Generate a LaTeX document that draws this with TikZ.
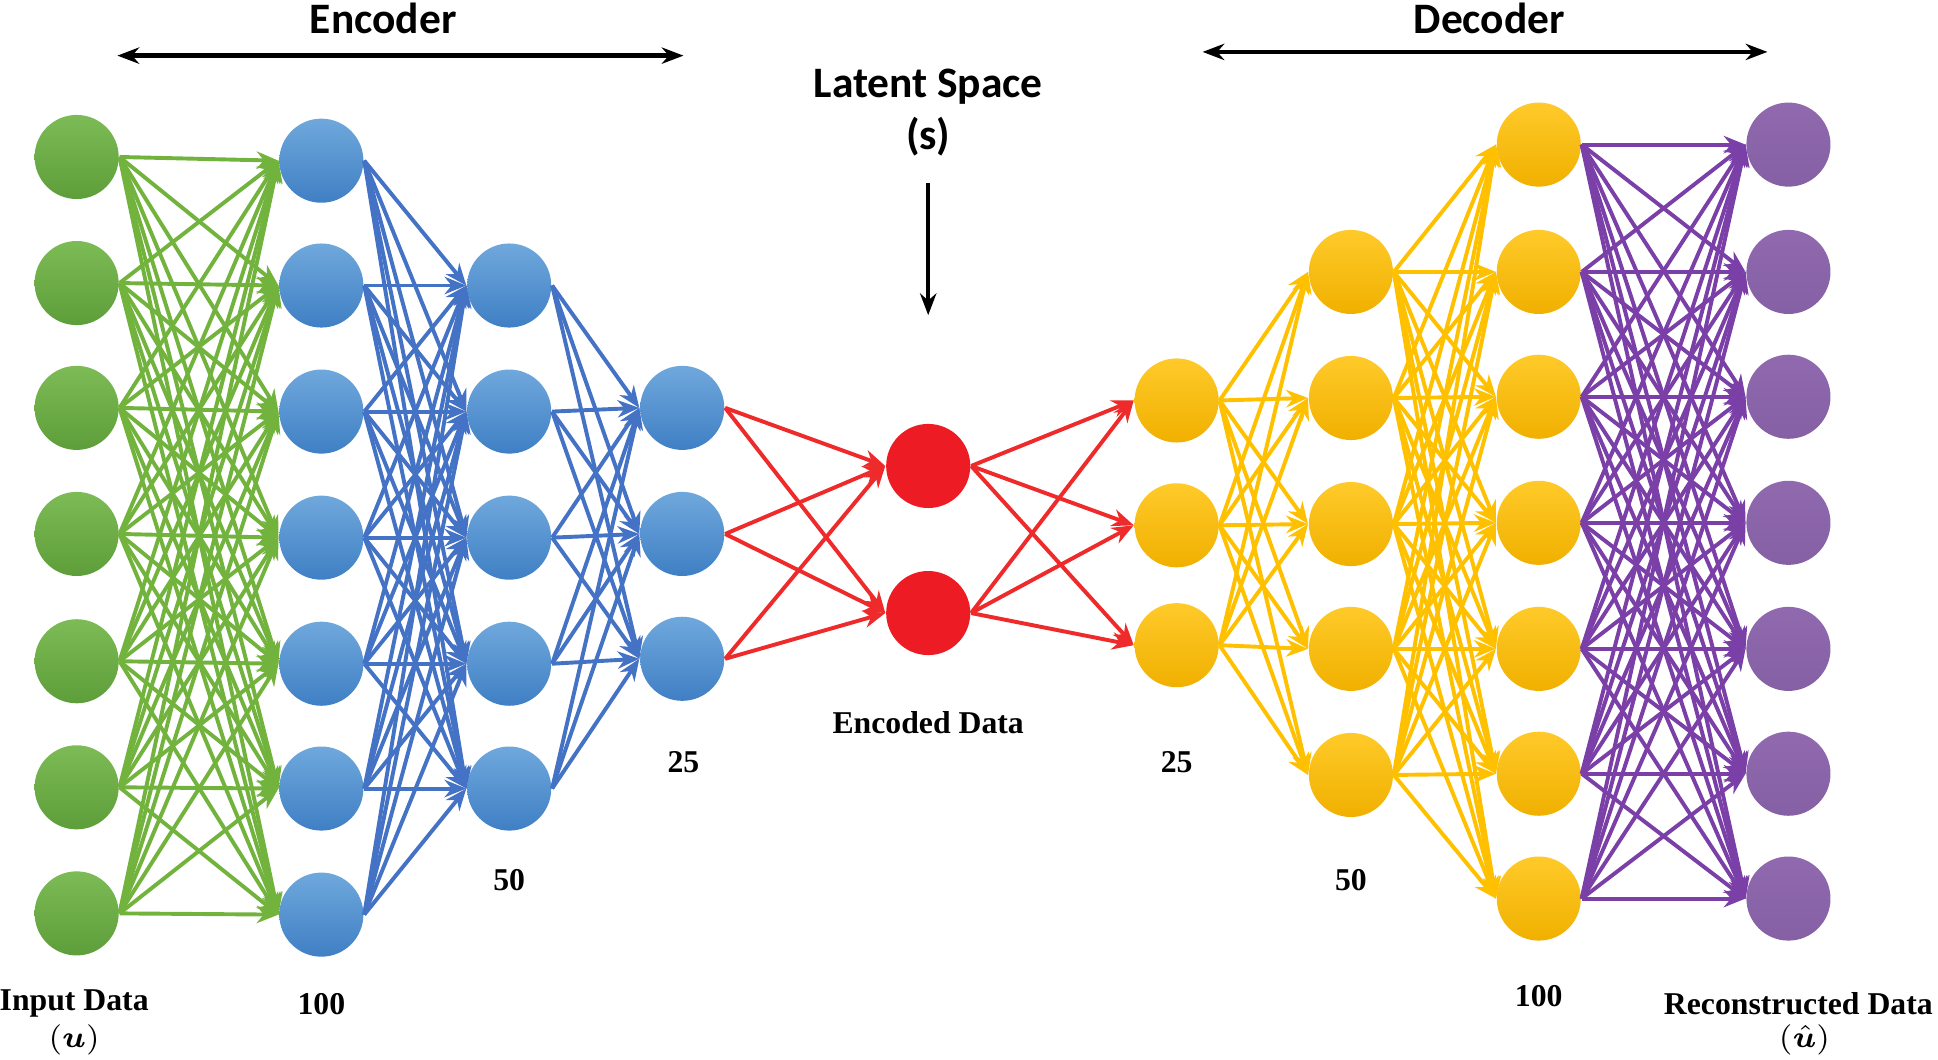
\documentclass[tikz,border=0pt]{standalone}
\usepackage{amsmath,bm}
\usepackage{fontspec}
\setmainfont{Liberation Serif}
\newfontfamily\hd{Carlito}
\usetikzlibrary{arrows.meta}
\definecolor{gA}{HTML}{7CBB55}\definecolor{gB}{HTML}{5E9E3A}\definecolor{gE}{HTML}{72B33E}
\definecolor{bA}{HTML}{6FA8DC}\definecolor{bB}{HTML}{3F7FC4}\definecolor{bE}{HTML}{4472C4}
\definecolor{rA}{HTML}{ED1C24}\definecolor{rE}{HTML}{EE2A2A}
\definecolor{yA}{HTML}{FFCA2A}\definecolor{yB}{HTML}{F0B000}\definecolor{yE}{HTML}{FFC000}
\definecolor{pA}{HTML}{9069AE}\definecolor{pB}{HTML}{8560A4}\definecolor{pE}{HTML}{7B3FA8}
\tikzset{
 neuron/.style={circle,minimum size=0.68cm,inner sep=0pt},
 gn/.style={neuron,top color=gA,bottom color=gB},
 bn/.style={neuron,top color=bA,bottom color=bB},
 rn/.style={neuron,fill=rA},
 yn/.style={neuron,top color=yA,bottom color=yB},
 pn/.style={neuron,top color=pA,bottom color=pB},
 edge/.style={-{Stealth[length=5pt,width=4pt]},line width=0.9pt},
 lbl/.style={font=\fontsize{7.3}{8}\selectfont\bfseries,inner sep=1pt},
 hdr/.style={font=\hd\fontsize{10}{12}\selectfont\bfseries},
 dbl/.style={{Stealth[length=5pt]}-{Stealth[length=5pt]},line width=1pt}
}
\begin{document}
\begin{tikzpicture}[x=0.01cm,y=-0.01cm]
\useasboundingbox (0,0) rectangle (1568,857);
\foreach \y [count=\i] in {127,229,330,432,535,637,739} \node[gn] (g\i) at (62,\y) {};
\foreach \y [count=\i] in {130,231,333,435,537,638,740} \node[bn] (a\i) at (260,\y) {};
\foreach \y [count=\i] in {231,333,435,537,638} \node[bn] (b\i) at (412,\y) {};
\foreach \y [count=\i] in {330,432,533} \node[bn] (c\i) at (552,\y) {};
\foreach \y [count=\i] in {377,496} \node[rn] (r\i) at (751,\y) {};
\foreach \y [count=\i] in {324,425,522} \node[yn] (d\i) at (952,\y) {};
\foreach \y [count=\i] in {220,322,424,525,627} \node[yn] (e\i) at (1093,\y) {};
\foreach \y [count=\i] in {117,220,321,423,525,626,727} \node[yn] (f\i) at (1245,\y) {};
\foreach \y [count=\i] in {117,220,321,423,525,626,727} \node[pn] (p\i) at (1447,\y) {};
\foreach \i in {1,...,7}{\foreach \j in {1,...,7}{\draw[edge,gE] (g\i.east) -- (a\j.west);}}
\foreach \i in {1,...,7}{\foreach \j in {1,...,5}{\draw[edge,bE] (a\i.east) -- (b\j.west);}}
\foreach \i in {1,...,5}{\foreach \j in {1,...,3}{\draw[edge,bE] (b\i.east) -- (c\j.west);}}
\foreach \i in {1,...,3}{\foreach \j in {1,2}{\draw[edge,rE] (c\i.east) -- (r\j.west);}}
\foreach \i in {1,2}{\foreach \j in {1,...,3}{\draw[edge,rE] (r\i.east) -- (d\j.west);}}
\foreach \i in {1,...,3}{\foreach \j in {1,...,5}{\draw[edge,yE] (d\i.east) -- (e\j.west);}}
\foreach \i in {1,...,5}{\foreach \j in {1,...,7}{\draw[edge,yE] (e\i.east) -- (f\j.west);}}
\foreach \i in {1,...,7}{\foreach \j in {1,...,7}{\draw[edge,pE] (f\i.east) -- (p\j.west);}}
\node[hdr] (enc) at (310,15) {Encoder};
\coordinate (e1) at (95,45); \coordinate (e2) at (553,45);
\draw[dbl] (e1) -- (e2);
\node[hdr] (dec) at (1205,15) {Decoder};
\coordinate (d1x) at (973,42); \coordinate (d2x) at (1430,42);
\draw[dbl] (d1x) -- (d2x);
\node[hdr,align=center] (lat) at (751,91) {Latent Space\\(s)};
\coordinate (l1) at (751,148); \coordinate (l2) at (751,255);
\draw[-{Stealth[length=5pt]},line width=1pt] (l1) -- (l2);
\node[lbl] (encd) at (751,585) {Encoded Data};
\node[lbl] (n25a) at (553,617) {25};
\node[lbl] (n25b) at (952,617) {25};
\node[lbl] (n50a) at (412,712) {50};
\node[lbl] (n50b) at (1093,712) {50};
\node[lbl] (n100a) at (260,812) {100};
\node[lbl] (n100b) at (1245,806) {100};
\node[lbl] (inp) at (60,812) {Input Data};
\node[lbl] (inpu) at (60,841) {$(\bm{u})$};
\node[lbl] (rec) at (1455,812) {Reconstructed Data};
\node[lbl] (recu) at (1460,841) {$(\hat{\bm{u}})$};
\end{tikzpicture}
\end{document}
